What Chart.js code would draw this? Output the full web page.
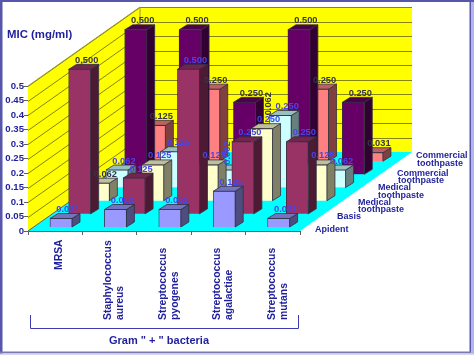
<!DOCTYPE html>
<html><head><meta charset="utf-8">
<style>
html,body{margin:0;padding:0;background:#fff}
#frame{position:relative;width:474px;height:355px;box-sizing:border-box;overflow:hidden}
canvas{position:absolute;left:0;top:0}
</style>
<script src="https://cdn.jsdelivr.net/npm/chart.js@4"></script>
</head><body><div id="frame"><canvas id="c" width="474" height="355"></canvas></div>
<script>
const categories = [["MRSA"],["Staphylococcus","aureus"],["Streptococcus","pyogenes"],["Streptococcus","agalactiae"],["Streptococcus","mutans"]];
const seriesNames = ["Apident","Basis","Medical toothpaste","Medical toothpaste","Commercial toothpaste","Commercial toothpaste"];
const apident = [0.031,0.062,0.062,0.125,0.031];
const basis = [0.5,0.125,0.5,0.25,0.25];
const medicalA = [0.062,0.125,0.125,0.25,0.125];
const medicalB = [0.062,0.125,0.062,0.25,0.062];
const commercialA = [0.5,0.5,0.25,0.5,0.25];
const commercialB = [0.125,0.25,0.062,0.25,0.031];
const yTicks = [0,0.05,0.1,0.15,0.2,0.25,0.3,0.35,0.4,0.45,0.5];
const seriesValues = [apident,basis,medicalA,medicalB,commercialA,commercialB];
const faceColors = ["#9999ff","#993366","#ffffcc","#ccffff","#660066","#ff8080"];
const topColors  = ["#7373bf","#73264d","#bfbf99","#99bfbf","#4d004d","#bf6060"];
const sideColors = ["#4d4d80","#4d1a33","#808066","#668080","#330033","#804040"];
const LABEL_BLUE="#4646e6", LABEL_DARK="#35354a";
// labels that sit on the yellow wall read dark in the original: "series:category"
const darkLabels=["1:0","2:0","4:0","4:1","4:2","4:3","4:4","5:0","5:1","5:2","5:3","5:4"];

const BLUE="#1f1f9c", FONT='"Liberation Sans",Arial,sans-serif';
const DEPTH={dx:112,dy:79}, N=6;
const slot=i=>({x:5.8+DEPTH.dx/N*i, y:-(3.5+DEPTH.dy/N*i)});
const BAR={dx:8,dy:5};
// labels that were moved and turned in the original: [series, category, dx, dy]
const turned=[[3,2,-5,-8],[5,2,-2,-31]];

const scene3d={
 id:'scene3d',
 beforeDatasetsDraw(ch){
  const c=ch.ctx,a=ch.chartArea,s=ch.scales.y;
  const L=a.left,R=a.right,T=a.top,B=a.bottom,dx=DEPTH.dx,dy=DEPTH.dy;
  c.save();
  c.fillStyle="#ffff00";
  c.beginPath();c.moveTo(L,T);c.lineTo(L+dx,T-dy);c.lineTo(R+dx,T-dy);c.lineTo(R+dx,B-dy);c.lineTo(L+dx,B-dy);c.lineTo(L,B);c.closePath();c.fill();
  c.fillStyle="#00ffff";
  c.beginPath();c.moveTo(L,B);c.lineTo(R,B);c.lineTo(R+dx,B-dy);c.lineTo(L+dx,B-dy);c.closePath();c.fill();
  c.strokeStyle="#85850c";c.lineWidth=1;
  yTicks.forEach(v=>{const y=Math.round(s.getPixelForValue(v))+.5;
   if(v>0){c.beginPath();c.moveTo(L,y);c.lineTo(L+dx,y-dy);c.lineTo(R+dx,y-dy);c.stroke();}
  });
  c.strokeStyle="#9a9a30";
  c.beginPath();c.moveTo(L,T);c.lineTo(L+dx,T-dy);c.lineTo(L+dx,B-dy);c.stroke();
  c.strokeStyle="#606060";c.beginPath();c.moveTo(L,B);c.lineTo(L+dx,B-dy);c.stroke();
  c.restore();
 },
 beforeDatasetDraw(ch,args){
  const i=args.index,c=ch.ctx,o=slot(i);
  c.save();c.translate(o.x,o.y);
  ch.getDatasetMeta(i).data.forEach(b=>{
   const p=b.getProps(['x','y','base','width'],true),l=p.x-p.width/2,r=p.x+p.width/2;
   c.lineWidth=.8;c.strokeStyle="#303040";
   c.fillStyle=sideColors[i];
   c.beginPath();c.moveTo(r,p.y);c.lineTo(r+BAR.dx,p.y-BAR.dy);c.lineTo(r+BAR.dx,p.base-BAR.dy);c.lineTo(r,p.base);c.closePath();c.fill();c.stroke();
   c.fillStyle=topColors[i];
   c.beginPath();c.moveTo(l,p.y);c.lineTo(l+BAR.dx,p.y-BAR.dy);c.lineTo(r+BAR.dx,p.y-BAR.dy);c.lineTo(r,p.y);c.closePath();c.fill();c.stroke();
  });
 },
 afterDatasetDraw(ch){ch.ctx.restore();},
 afterDraw(ch){
  const c=ch.ctx,xs=ch.scales.x;
  c.save();
  c.textAlign='center';c.textBaseline='middle';
  seriesValues.forEach((vals,i)=>{
   const o=slot(i);
   ch.getDatasetMeta(i).data.forEach((b,j)=>{
    const p=b.getProps(['x','y'],true),x=p.x+o.x+7,y=p.y+o.y-9,t=vals[j].toFixed(3);
    const m=turned.find(q=>q[0]===i&&q[1]===j);
    c.save();
    if(m){c.translate(x+m[2],y+m[3]);c.rotate(-Math.PI/2);}else c.translate(x,y);
    c.fillStyle=darkLabels.includes(i+":"+j)?LABEL_DARK:LABEL_BLUE;
    c.font='bold 9.3px '+FONT;
    c.fillText(t,0,0);c.restore();
   });
  });
  c.fillStyle=BLUE;c.font='bold 9px '+FONT;c.textAlign='left';c.textBaseline='middle';
  const depthPos=[[315,230],[337,217],[358,206],[378,191.5],[397,177],[416,159.5]];
  seriesNames.forEach((n,i)=>{
   const w=n.split(' '),P=depthPos[i];
   w.forEach((t,k)=>c.fillText(t,P[0]+(k&&i>3?1:0),P[1]+(k-(w.length-1)/2)*7.6));
  });
  c.font='bold 10.4px '+FONT;c.textAlign='left';c.textBaseline='middle';
  categories.forEach((lines,j)=>{
   const x=xs.getPixelForTick(j);
   lines.forEach((t,k)=>{
    c.save();
    const lx=lines.length>1?x-1+k*12:x+4;
    c.translate(lx,lines.length>1?320:270);c.rotate(-Math.PI/2);
    c.fillText(t,0,0);c.restore();
   });
  });
  c.font='bold 11.4px '+FONT;c.textAlign='left';
  c.fillText("MIC (mg/ml)",7,35);
  c.strokeStyle="#3c3cb0";c.lineWidth=1;
  c.beginPath();c.moveTo(30.5,315);c.lineTo(30.5,328.5);c.lineTo(298.5,328.5);c.lineTo(298.5,315);c.stroke();
  c.fillStyle=BLUE;c.font='bold 11px '+FONT;c.textAlign='center';
  c.fillText('Gram " + " bacteria',159,341);
  // frame bands
  c.fillStyle="#5656aa";
  c.fillRect(0,0,474,2);c.fillRect(0,0,2.5,355);c.fillRect(469.5,0,1.5,352);
  c.fillStyle="#b4b4f0";c.fillRect(471,2,3,353);
  c.fillStyle="#7a7ab0";c.fillRect(0,351.5,471,2);
  c.fillStyle="#d8d8f0";c.fillRect(0,353.5,474,1.5);
  c.restore();
 }
};

new Chart(document.getElementById('c'),{
 type:'bar',
 data:{labels:categories,datasets:seriesValues.map((v,i)=>({
  label:seriesNames[i],data:v,backgroundColor:faceColors[i],borderColor:"#303040",borderWidth:.8,barThickness:22,clip:false
 }))},
 options:{
  responsive:false,animation:false,
  layout:{padding:{left:0,right:174,top:86,bottom:0}},
  plugins:{legend:{display:false},title:{display:false},tooltip:{enabled:false}},
  scales:{
   x:{stacked:true,
    border:{color:"#606060"},
    grid:{display:true,offset:true,drawOnChartArea:false,drawTicks:true,tickLength:4,tickColor:"#606060"},
    ticks:{display:false},
    afterFit(s){s.height=124;}},
   y:{min:0,max:0.5,afterBuildTicks(s){s.ticks=yTicks.map(v=>({value:v}));},
    border:{color:"#808010"},
    grid:{drawOnChartArea:false,tickLength:4,tickColor:"#606060"},
    ticks:{autoSkip:false,color:BLUE,font:{family:FONT,weight:'bold',size:9.6},padding:0,callback:v=>String(+v.toFixed(2))},
    afterFit(s){s.width=28;}}
  }
 },
 plugins:[scene3d]
});
</script></body></html>
